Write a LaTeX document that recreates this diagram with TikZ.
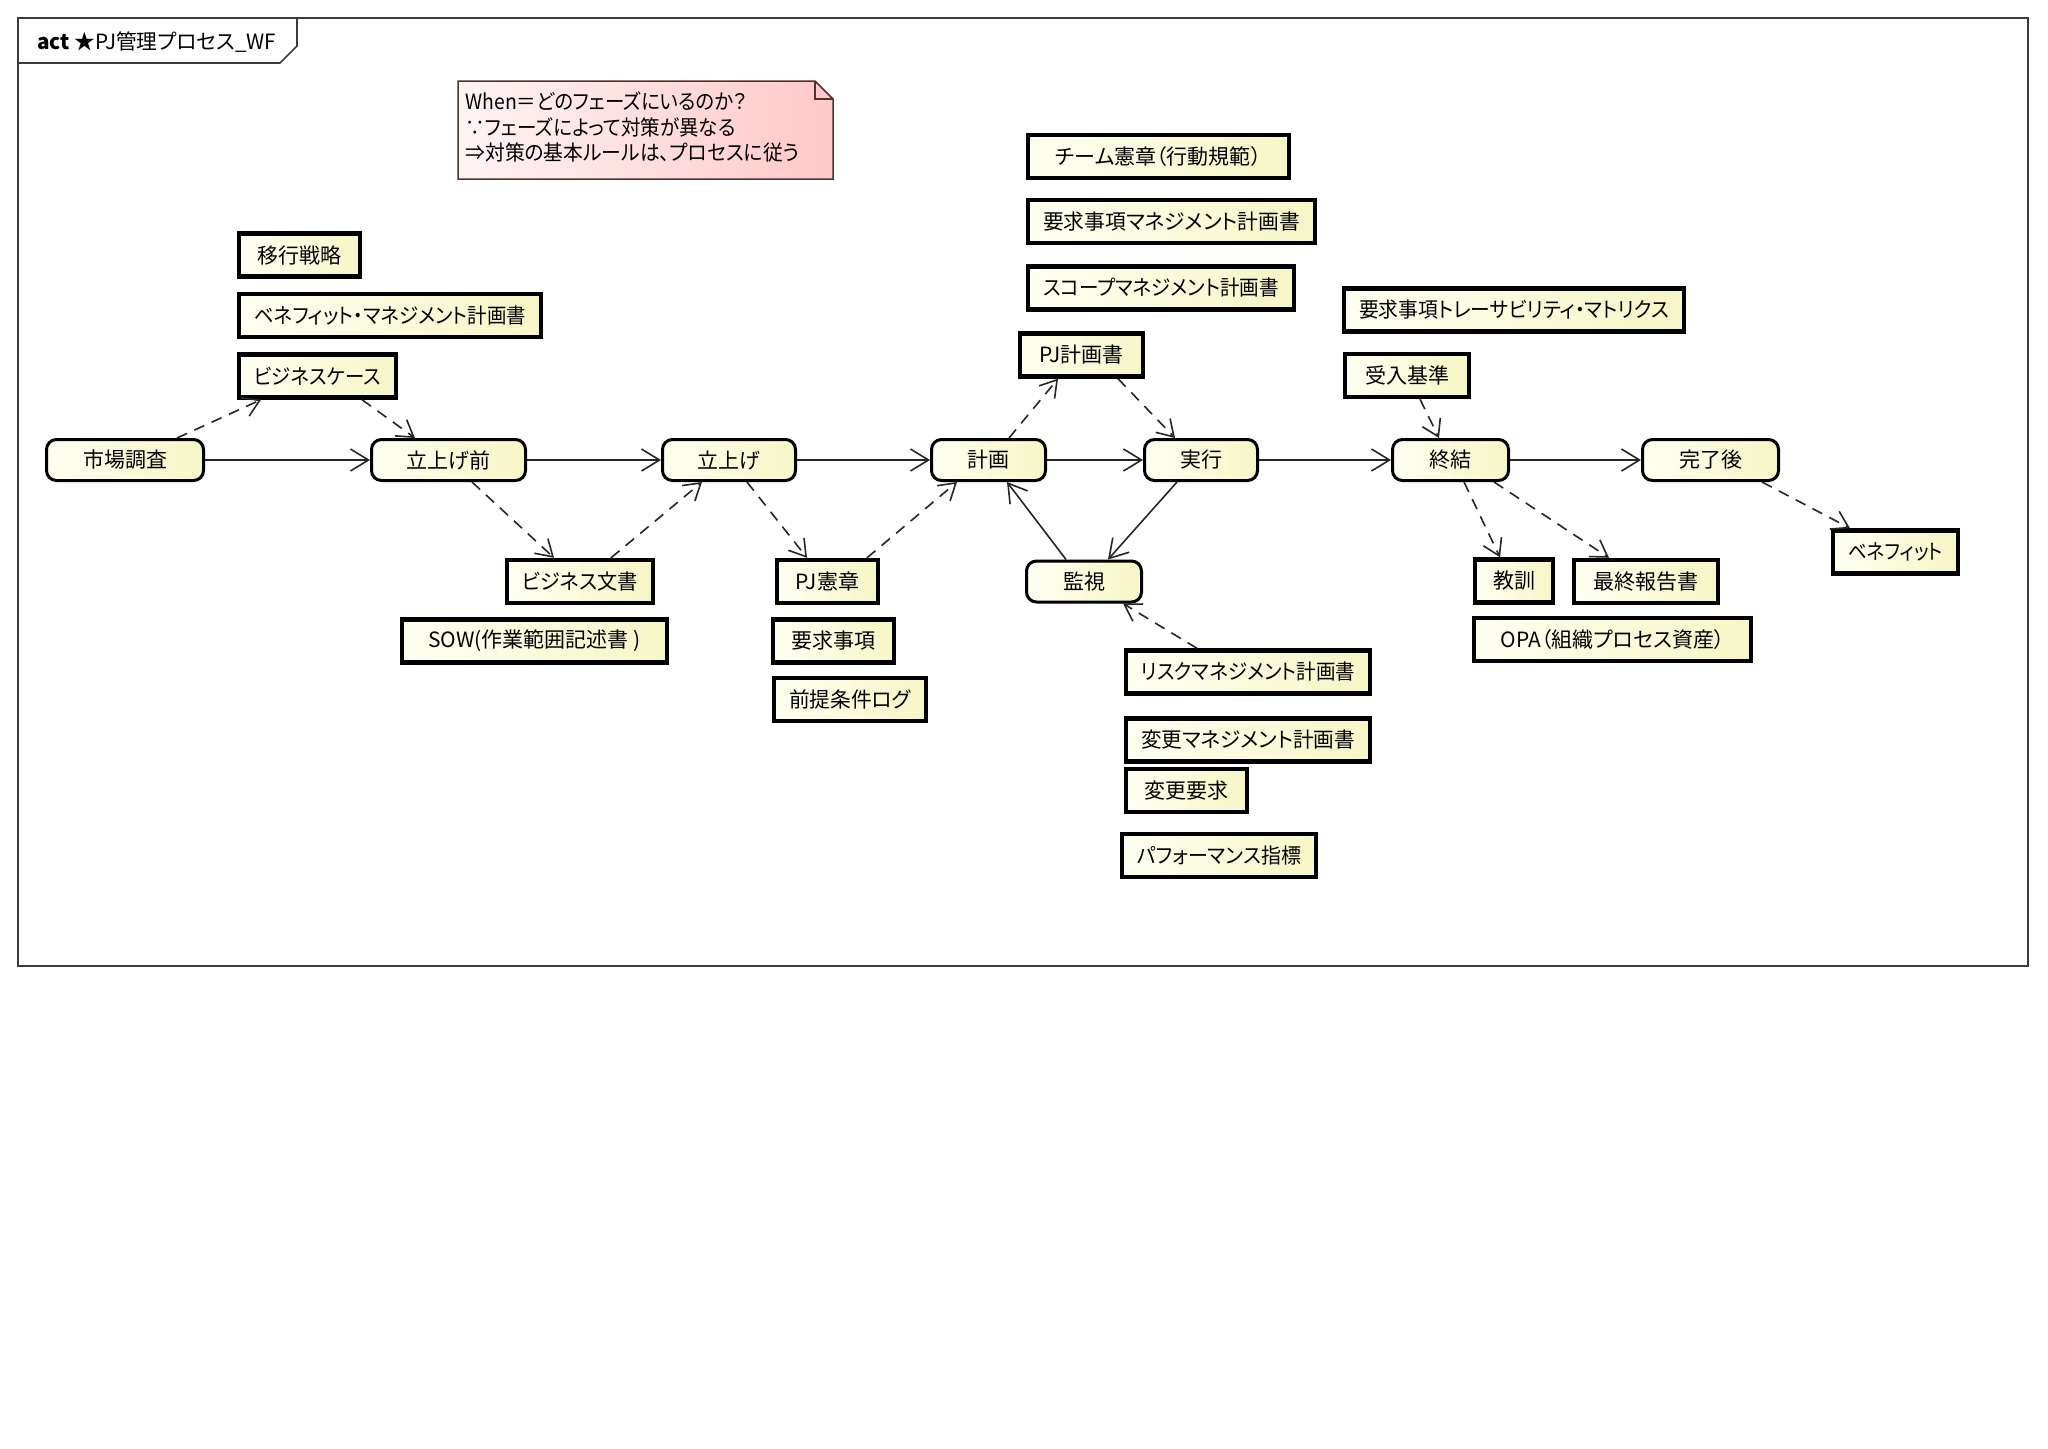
\documentclass[tikz,border=0pt]{standalone}
\usepackage{fontspec}
\usepackage{graphicx}
\setmainfont{Noto Sans CJK JP}[RawFeature=+palt]
\usetikzlibrary{arrows.meta}
\definecolor{ylight}{RGB}{255,255,242}
\definecolor{ydark}{RGB}{246,246,198}
\definecolor{plight}{RGB}{255,244,244}
\definecolor{pdark}{RGB}{255,200,200}
\definecolor{framec}{RGB}{60,60,60}
\definecolor{notec}{RGB}{80,50,50}
\newlength\fitlen
% compress text (only if needed) to fit a box of #1 px width
\newcommand\fitbox[2]{\settowidth\fitlen{#2}\pgfmathsetmacro\fitsc{min(1,(#1-34)*0.5/\fitlen)}\scalebox{\fitsc}[1]{#2}}
% scale text horizontally to exactly #1 pt
\newcommand\fitexact[2]{\settowidth\fitlen{#2}\pgfmathsetmacro\fitsc{#1/\fitlen}\scalebox{\fitsc}[1]{#2}}
\newcommand\fs{\fontsize{10.5pt}{12pt}\selectfont}
\begin{document}
\begin{tikzpicture}[x=0.5pt,y=-0.5pt,
  proc/.style={draw=black, line width=1.5pt, rounded corners=5pt, left color=ylight, right color=ydark, minimum height=20.5pt, inner sep=0pt, font=\fs},
  obj/.style={draw=black, line width=2.2pt, left color=ylight, right color=ydark, minimum height=21.5pt, inner sep=0pt, font=\fs},
  ow/.style={minimum width=(#1-4)*0.5pt},
  pw/.style={minimum width=(#1-3)*0.5pt},
  flow/.style={draw=black!85, line width=0.8pt, dash pattern=on 5.5pt off 4pt, -{Straight Barb[length=8pt,width=10pt]}},
  ctrl/.style={draw=black!85, line width=0.8pt, -{Straight Barb[length=9pt,width=11pt]}},
  frame/.style={draw=framec, line width=0.8pt},
  notetext/.style={anchor=west, inner sep=0pt, font=\fs}
]
\fill[white] (0,0) rectangle (2048,1448);
\useasboundingbox (0,0) rectangle (2048,1448);

% frame
\draw[frame] (18,18) rectangle (2028,966);
\draw[frame] (18,63) -- (280,63) -- (297,46) -- (297,18);
\node[anchor=west, inner sep=0pt, font=\fs] (title) at (37,42) {\fitexact{119.5}{\textbf{act} ★PJ管理プロセス\_WF}};

% note
\draw[draw=notec, line width=0.75pt, left color=plight, right color=pdark] (458,81) -- (815,81) -- (833,99) -- (833,179) -- (458,179) -- cycle;
\draw[draw=notec, line width=0.75pt] (815,81) -- (815,99) -- (833,99);
\node[notetext] (n1) at (465,101) {\fitexact{141}{When＝どのフェーズにいるのか？}};
\node[notetext] (n2) at (465,127) {\fitexact{135}{∵フェーズによって対策が異なる}};
\node[notetext] (n3) at (465,153) {\fitexact{167}{⇒対策の基本ルールは、プロセスに従う}};

% process nodes
\node[proc, pw=160] (ms) at (125,460) {市場調査};
\node[proc, pw=157] (pre) at (448.5,460) {立上げ前};
\node[proc, pw=136] (ini) at (729,460) {立上げ};
\node[proc, pw=117] (plan) at (988.5,460) {計画};
\node[proc, pw=116] (exe) at (1201,460) {実行};
\node[proc, pw=119] (close) at (1450.5,460) {終結};
\node[proc, pw=139] (post) at (1710.5,460) {完了後};
\node[proc, pw=118] (mon) at (1084,581.5) {監視};

% object nodes
\node[obj, ow=125] (ikou) at (299.5,255) {\fitbox{125}{移行戦略}};
\node[obj, ow=306] (bmp) at (390,315.5) {\fitbox{306}{ベネフィット・マネジメント計画書}};
\node[obj, ow=161] (bc) at (317.5,376) {\fitbox{161}{ビジネスケース}};
\node[obj, ow=150] (bd) at (580,581.5) {\fitbox{150}{ビジネス文書}};
\node[obj, ow=269] (sow) at (534.5,641) {\fitbox{269}{SOW(作業範囲記述書 )}};
\node[obj, ow=105] (pjc) at (827.5,581.5) {\fitbox{105}{PJ憲章}};
\node[obj, ow=125] (req) at (833.5,641) {\fitbox{125}{要求事項}};
\node[obj, ow=156] (assm) at (850,699.5) {\fitbox{156}{前提条件ログ}};
\node[obj, ow=265] (team) at (1158.5,156.5) {\fitbox{265}{チーム憲章（行動規範）}};
\node[obj, ow=291] (rmp) at (1171.5,221.5) {\fitbox{291}{要求事項マネジメント計画書}};
\node[obj, ow=270] (smp) at (1161,288) {\fitbox{270}{スコープマネジメント計画書}};
\node[obj, ow=127] (pjp) at (1081.5,355) {\fitbox{127}{PJ計画書}};
\node[obj, ow=344] (rtm) at (1514,310) {\fitbox{344}{要求事項トレーサビリティ・マトリクス}};
\node[obj, ow=128] (acc) at (1407,375.5) {\fitbox{128}{受入基準}};
\node[obj, ow=82] (lsn) at (1514,581) {\fitbox{90}{教訓}};
\node[obj, ow=148] (frp) at (1646,581.5) {\fitbox{148}{最終報告書}};
\node[obj, ow=281] (opa) at (1612.5,639.5) {\fitbox{281}{OPA（組織プロセス資産）}};
\node[obj, ow=129] (ben) at (1895.5,552) {\fitbox{129}{ベネフィット}};
\node[obj, ow=248] (risk) at (1248,672) {\fitbox{248}{リスクマネジメント計画書}};
\node[obj, ow=248] (cmp) at (1248,740) {\fitbox{248}{変更マネジメント計画書}};
\node[obj, ow=125] (chr) at (1186.5,790.5) {\fitbox{125}{変更要求}};
\node[obj, ow=198] (perf) at (1219,855.5) {\fitbox{198}{パフォーマンス指標}};

% control flows
\draw[ctrl] (ms) -- (pre);
\draw[ctrl] (pre) -- (ini);
\draw[ctrl] (ini) -- (plan);
\draw[ctrl] (plan) -- (exe);
\draw[ctrl] (exe) -- (close);
\draw[ctrl] (close) -- (post);
\draw[ctrl] ([xshift=-12pt]exe.south) -- ([xshift=12pt]mon.north);
\draw[ctrl] ([xshift=-9pt]mon.north) -- ([xshift=9.25pt]plan.south);

% object flows
\draw[flow] ([xshift=26pt]ms.north) -- ([xshift=-28.25pt]bc.south);
\draw[flow] ([xshift=22.25pt]bc.south) -- ([xshift=-16.75pt]pre.north);
\draw[flow] ([xshift=11.75pt]pre.south) -- ([xshift=-13pt]bd.north);
\draw[flow] ([xshift=15.5pt]bd.north) -- ([xshift=-13.5pt]ini.south);
\draw[flow] ([xshift=9pt]ini.south) -- ([xshift=-10.25pt]pjc.north);
\draw[flow] ([xshift=19.75pt]pjc.north) -- ([xshift=-15.75pt]plan.south);
\draw[flow] ([xshift=10.25pt]plan.north) -- ([xshift=-11.75pt]pjp.south);
\draw[flow] ([xshift=18.25pt]pjp.south) -- ([xshift=-13pt]exe.north);
\draw[flow] ([xshift=-25.5pt]risk.north) -- ([xshift=19.5pt]mon.south);
\draw[flow] ([xshift=6.5pt]acc.south) -- ([xshift=-5.75pt]close.north);
\draw[flow] ([xshift=6.75pt]close.south) -- ([xshift=-7pt]lsn.north);
\draw[flow] ([xshift=21.75pt]close.south) -- ([xshift=-18.5pt]frp.north);
\draw[flow] ([xshift=25.75pt]post.south) -- ([xshift=-22.75pt]ben.north);
\end{tikzpicture}
\end{document}
